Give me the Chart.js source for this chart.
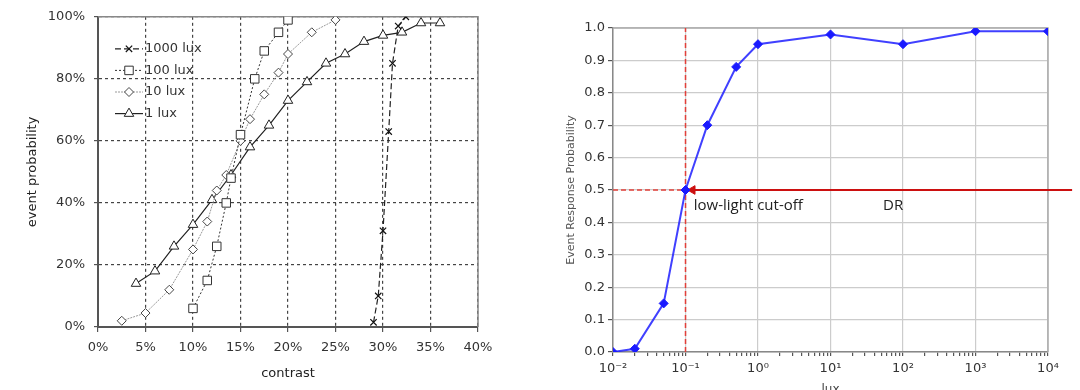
<!DOCTYPE html>
<html lang="en">
  <head>
    <meta charset="UTF-8" />
    <script src="https://cdn.jsdelivr.net/npm/chart.js"></script>
    <style>
      body {
        margin: 0;
        width: 1080px;
        height: 390px;
        overflow: hidden;
        background: #fff;
        position: relative;
      }
      #contrastChart { position: absolute; left: 0; top: 0; }
      #luxChart { position: absolute; left: 540px; top: 0; }
    </style>
  </head>
  <body>
    <canvas id="contrastChart" width="540" height="390"></canvas>
    <canvas id="luxChart" width="540" height="410"></canvas>

    <script>
      // left chart: event probability vs contrast
      const contrast1000 = [29, 29.5, 30, 30.6, 31, 31.6, 32.4];
      const prob1000 = [1.5, 10, 31, 63, 85, 97, 100];

      const contrast100 = [10, 11.5, 12.5, 13.5, 14, 15, 16.5, 17.5, 19, 20];
      const prob100 = [6, 15, 26, 40, 48, 62, 80, 89, 95, 99];

      const contrast10 = [2.5, 5, 7.5, 10, 11.5, 12.5, 13.5, 15, 16, 17.5, 19, 20, 22.5, 25];
      const prob10 = [2, 4.5, 12, 25, 34, 44, 49, 60, 67, 75, 82, 88, 95, 99];

      const contrast1 = [4, 6, 8, 10, 12, 14, 16, 18, 20, 22, 24, 26, 28, 30, 32, 34, 36];
      const prob1 = [14, 18, 26, 33, 41, 49, 58, 65, 73, 79, 85, 88, 92, 94, 95, 98, 98];

      // right chart: response probability vs lux
      const lux = [0.01, 0.02, 0.05, 0.1, 0.2, 0.5, 1, 10, 100, 1000, 10000];
      const responseProb = [0.0, 0.01, 0.15, 0.5, 0.7, 0.88, 0.95, 0.98, 0.95, 0.99, 0.99];

      const cutoffLux = 0.1;
      const cutoffProb = 0.5;
      const arrowLux = [0.125, 21500];
      const noteLabels = ["low-light cut-off", "DR"];
      const noteLux = [0.13, 53];
      const noteProb = [0.45, 0.45];

      const points = (xs, ys) => xs.map((x, i) => ({ x: x, y: ys[i] }));
      const supers = { "-": "\u207B", 0: "\u2070", 1: "\u00B9", 2: "\u00B2", 3: "\u00B3", 4: "\u2074" };
      const isPow10 = (v) => Math.abs(Math.log10(v) - Math.round(Math.log10(v))) < 1e-6;
      const powLabel = (v) =>
        "10" + String(Math.round(Math.log10(v))).split("").map((c) => supers[c]).join("");

      const framePlugin = {
        id: "frame",
        beforeDatasetsDraw(chart, args, opts) {
          const { ctx, chartArea: a } = chart;
          ctx.save();
          ctx.strokeStyle = opts.color;
          ctx.lineWidth = opts.width;
          ctx.beginPath();
          ctx.moveTo(a.left, a.top);
          ctx.lineTo(a.right, a.top);
          ctx.lineTo(a.right, a.bottom);
          ctx.stroke();
          ctx.restore();
        },
      };

      const seriesLegend = {
        id: "seriesLegend",
        afterDatasetsDraw(chart) {
          const { ctx, chartArea: a } = chart;
          chart.data.datasets.forEach((ds, i) => {
            const y = a.top + 32 + i * 21.6;
            const x0 = a.left + 17;
            const x1 = a.left + 45;
            ctx.save();
            ctx.strokeStyle = ds.borderColor;
            ctx.lineWidth = ds.borderWidth;
            ctx.setLineDash(ds.borderDash || []);
            ctx.beginPath();
            ctx.moveTo(x0, y);
            ctx.lineTo(x1, y);
            ctx.stroke();
            ctx.setLineDash([]);
            ctx.fillStyle = ds.pointBackgroundColor;
            ctx.strokeStyle = ds.pointBorderColor;
            ctx.lineWidth = ds.pointBorderWidth;
            if (Chart.helpers && Chart.helpers.drawPoint) {
              Chart.helpers.drawPoint(
                ctx,
                { pointStyle: ds.pointStyle, radius: ds.pointRadius, rotation: 0, borderWidth: ds.pointBorderWidth },
                (x0 + x1) / 2,
                y
              );
            }
            ctx.fillStyle = "#333";
            ctx.font = "13px 'DejaVu Sans'";
            ctx.textBaseline = "middle";
            ctx.fillText(ds.label, x1 + 2, y);
            ctx.restore();
          });
        },
      };

      const notesPlugin = {
        id: "notes",
        afterDatasetsDraw(chart) {
          const { ctx, scales } = chart;
          ctx.save();
          ctx.font = "15px 'Open Sans'";
          ctx.fillStyle = "#222";
          ctx.textBaseline = "middle";
          noteLabels.forEach((t, i) => {
            ctx.fillText(t, scales.x.getPixelForValue(noteLux[i]), scales.y.getPixelForValue(noteProb[i]));
          });
          ctx.restore();
        },
      };

      const tickFont = { family: "DejaVu Sans", size: 13 };

      new Chart(document.getElementById("contrastChart"), {
        type: "scatter",
        data: {
          datasets: [
            {
              label: "1000 lux",
              data: points(contrast1000, prob1000),
              showLine: true,
              borderColor: "#222",
              borderWidth: 1.2,
              borderDash: [6, 3],
              pointStyle: "crossRot",
              pointRadius: 4.5,
              pointBackgroundColor: "#fff",
              pointBorderColor: "#111",
              pointBorderWidth: 1.2,
            },
            {
              label: "100 lux",
              data: points(contrast100, prob100),
              showLine: true,
              borderColor: "#333",
              borderWidth: 1,
              borderDash: [2, 2],
              pointStyle: "rect",
              pointRadius: 6,
              pointBackgroundColor: "#fff",
              pointBorderColor: "#333",
              pointBorderWidth: 1,
            },
            {
              label: "10 lux",
              data: points(contrast10, prob10),
              showLine: true,
              borderColor: "#999",
              borderWidth: 1,
              borderDash: [2, 1],
              pointStyle: "rectRot",
              pointRadius: 4.5,
              pointBackgroundColor: "#fff",
              pointBorderColor: "#444",
              pointBorderWidth: 1,
            },
            {
              label: "1 lux",
              data: points(contrast1, prob1),
              showLine: true,
              borderColor: "#222",
              borderWidth: 1.2,
              pointStyle: "triangle",
              pointRadius: 5.5,
              pointBackgroundColor: "#fff",
              pointBorderColor: "#222",
              pointBorderWidth: 1,
            },
          ],
        },
        options: {
          responsive: false,
          animation: false,
          events: [],
          layout: { padding: { top: 10, right: 62, left: 0, bottom: 0 } },
          plugins: {
            legend: { display: false },
            tooltip: { enabled: false },
            frame: { color: "#888", width: 1.5 },
          },
          scales: {
            x: {
              type: "linear",
              min: 0,
              max: 40,
              ticks: { stepSize: 5, callback: (v) => v + "%", color: "#333", font: tickFont, padding: 8, maxRotation: 0 },
              grid: { color: "#444", lineWidth: 1.2, tickLength: 5, tickColor: "#555" },
              border: { color: "#555", width: 2, dash: [3, 3] },
              title: { display: true, text: "contrast", color: "#222", font: tickFont, padding: { top: 4, bottom: 9 } },
              afterFit: (s) => { s.height = 63; },
            },
            y: {
              min: 0,
              max: 100,
              ticks: { stepSize: 20, callback: (v) => v + "%", color: "#333", font: tickFont, padding: 9 },
              grid: { color: "#444", lineWidth: 1.2, tickLength: 4, tickColor: "#555" },
              border: { color: "#555", width: 2, dash: [3, 3] },
              title: { display: true, text: "event probability", color: "#222", font: tickFont, padding: { top: 25, bottom: 4 } },
              afterFit: (s) => { s.width = 98; },
            },
          },
        },
        plugins: [framePlugin, seriesLegend],
      });

      new Chart(document.getElementById("luxChart"), {
        type: "scatter",
        data: {
          datasets: [
            {
              label: "Event Response Probability",
              data: points(lux, responseProb),
              showLine: true,
              borderColor: "rgba(30, 30, 255, 0.85)",
              borderWidth: 2,
              pointStyle: "rectRot",
              pointRadius: 4.5,
              pointBackgroundColor: "#1a1aff",
              pointBorderColor: "#1a1aff",
              pointBorderWidth: 1,
            },
            {
              label: "cut-off",
              data: points([cutoffLux, cutoffLux], [0, 1]),
              showLine: true,
              borderColor: "#e2403a",
              borderWidth: 1.5,
              borderDash: [5, 3],
              pointRadius: 0,
            },
            {
              label: "cut-off level",
              data: points([lux[0], cutoffLux], [cutoffProb, cutoffProb]),
              showLine: true,
              borderColor: "#e2403a",
              borderWidth: 1.5,
              borderDash: [5, 3],
              pointRadius: 0,
            },
            {
              label: "DR",
              data: points(arrowLux, [cutoffProb, cutoffProb]),
              showLine: true,
              clip: false,
              borderColor: "#cc1010",
              borderWidth: 2,
              pointStyle: ["triangle", "line"],
              pointRotation: [-90, 90],
              pointRadius: [5, 4],
              pointBackgroundColor: "#cc1010",
              pointBorderColor: "#cc1010",
              pointBorderWidth: [1, 2],
            },
          ],
        },
        options: {
          responsive: false,
          animation: false,
          events: [],
          layout: { padding: { top: 28, right: 32, left: 0, bottom: 0 } },
          plugins: {
            legend: { display: false },
            tooltip: { enabled: false },
            frame: { color: "#aaa", width: 1.5 },
          },
          scales: {
            x: {
              type: "logarithmic",
              min: 0.01,
              max: 10000,
              afterBuildTicks: (s) => {
                s.ticks = s.ticks.filter((t) => {
                  const m = t.value / Math.pow(10, Math.floor(Math.log10(t.value) + 1e-9));
                  return Math.abs(m - 1.5) > 1e-6;
                });
              },
              ticks: {
                autoSkip: false,
                maxRotation: 0,
                minRotation: 0,
                callback: (v) => (isPow10(v) ? powLabel(v) : ""),
                color: "#333",
                font: tickFont,
                padding: 5,
              },
              grid: {
                color: (c) => (c.tick && isPow10(c.tick.value) ? "#ccc" : "rgba(0,0,0,0)"),
                lineWidth: 1.2,
                tickLength: 4,
                tickColor: "#555",
              },
              border: { color: "#888", width: 1.5 },
              title: { display: true, text: "lux", color: "#444", font: { family: "DejaVu Sans", size: 12 }, padding: { top: 4, bottom: 13 } },
              afterFit: (s) => { s.height = 58; },
            },
            y: {
              min: 0,
              max: 1,
              ticks: { stepSize: 0.1, callback: (v) => v.toFixed(1), color: "#333", font: tickFont, padding: 3 },
              grid: { color: "#ccc", lineWidth: 1.2, tickLength: 5, tickColor: "#555" },
              border: { color: "#888", width: 1.5 },
              title: {
                display: true,
                text: "Event Response Probability",
                color: "#555",
                font: { family: "DejaVu Sans", size: 11 },
                padding: { top: 25, bottom: 4 },
              },
              afterFit: (s) => { s.width = 73; },
            },
          },
        },
        plugins: [framePlugin, notesPlugin],
      });
    </script>
  </body>
</html>
